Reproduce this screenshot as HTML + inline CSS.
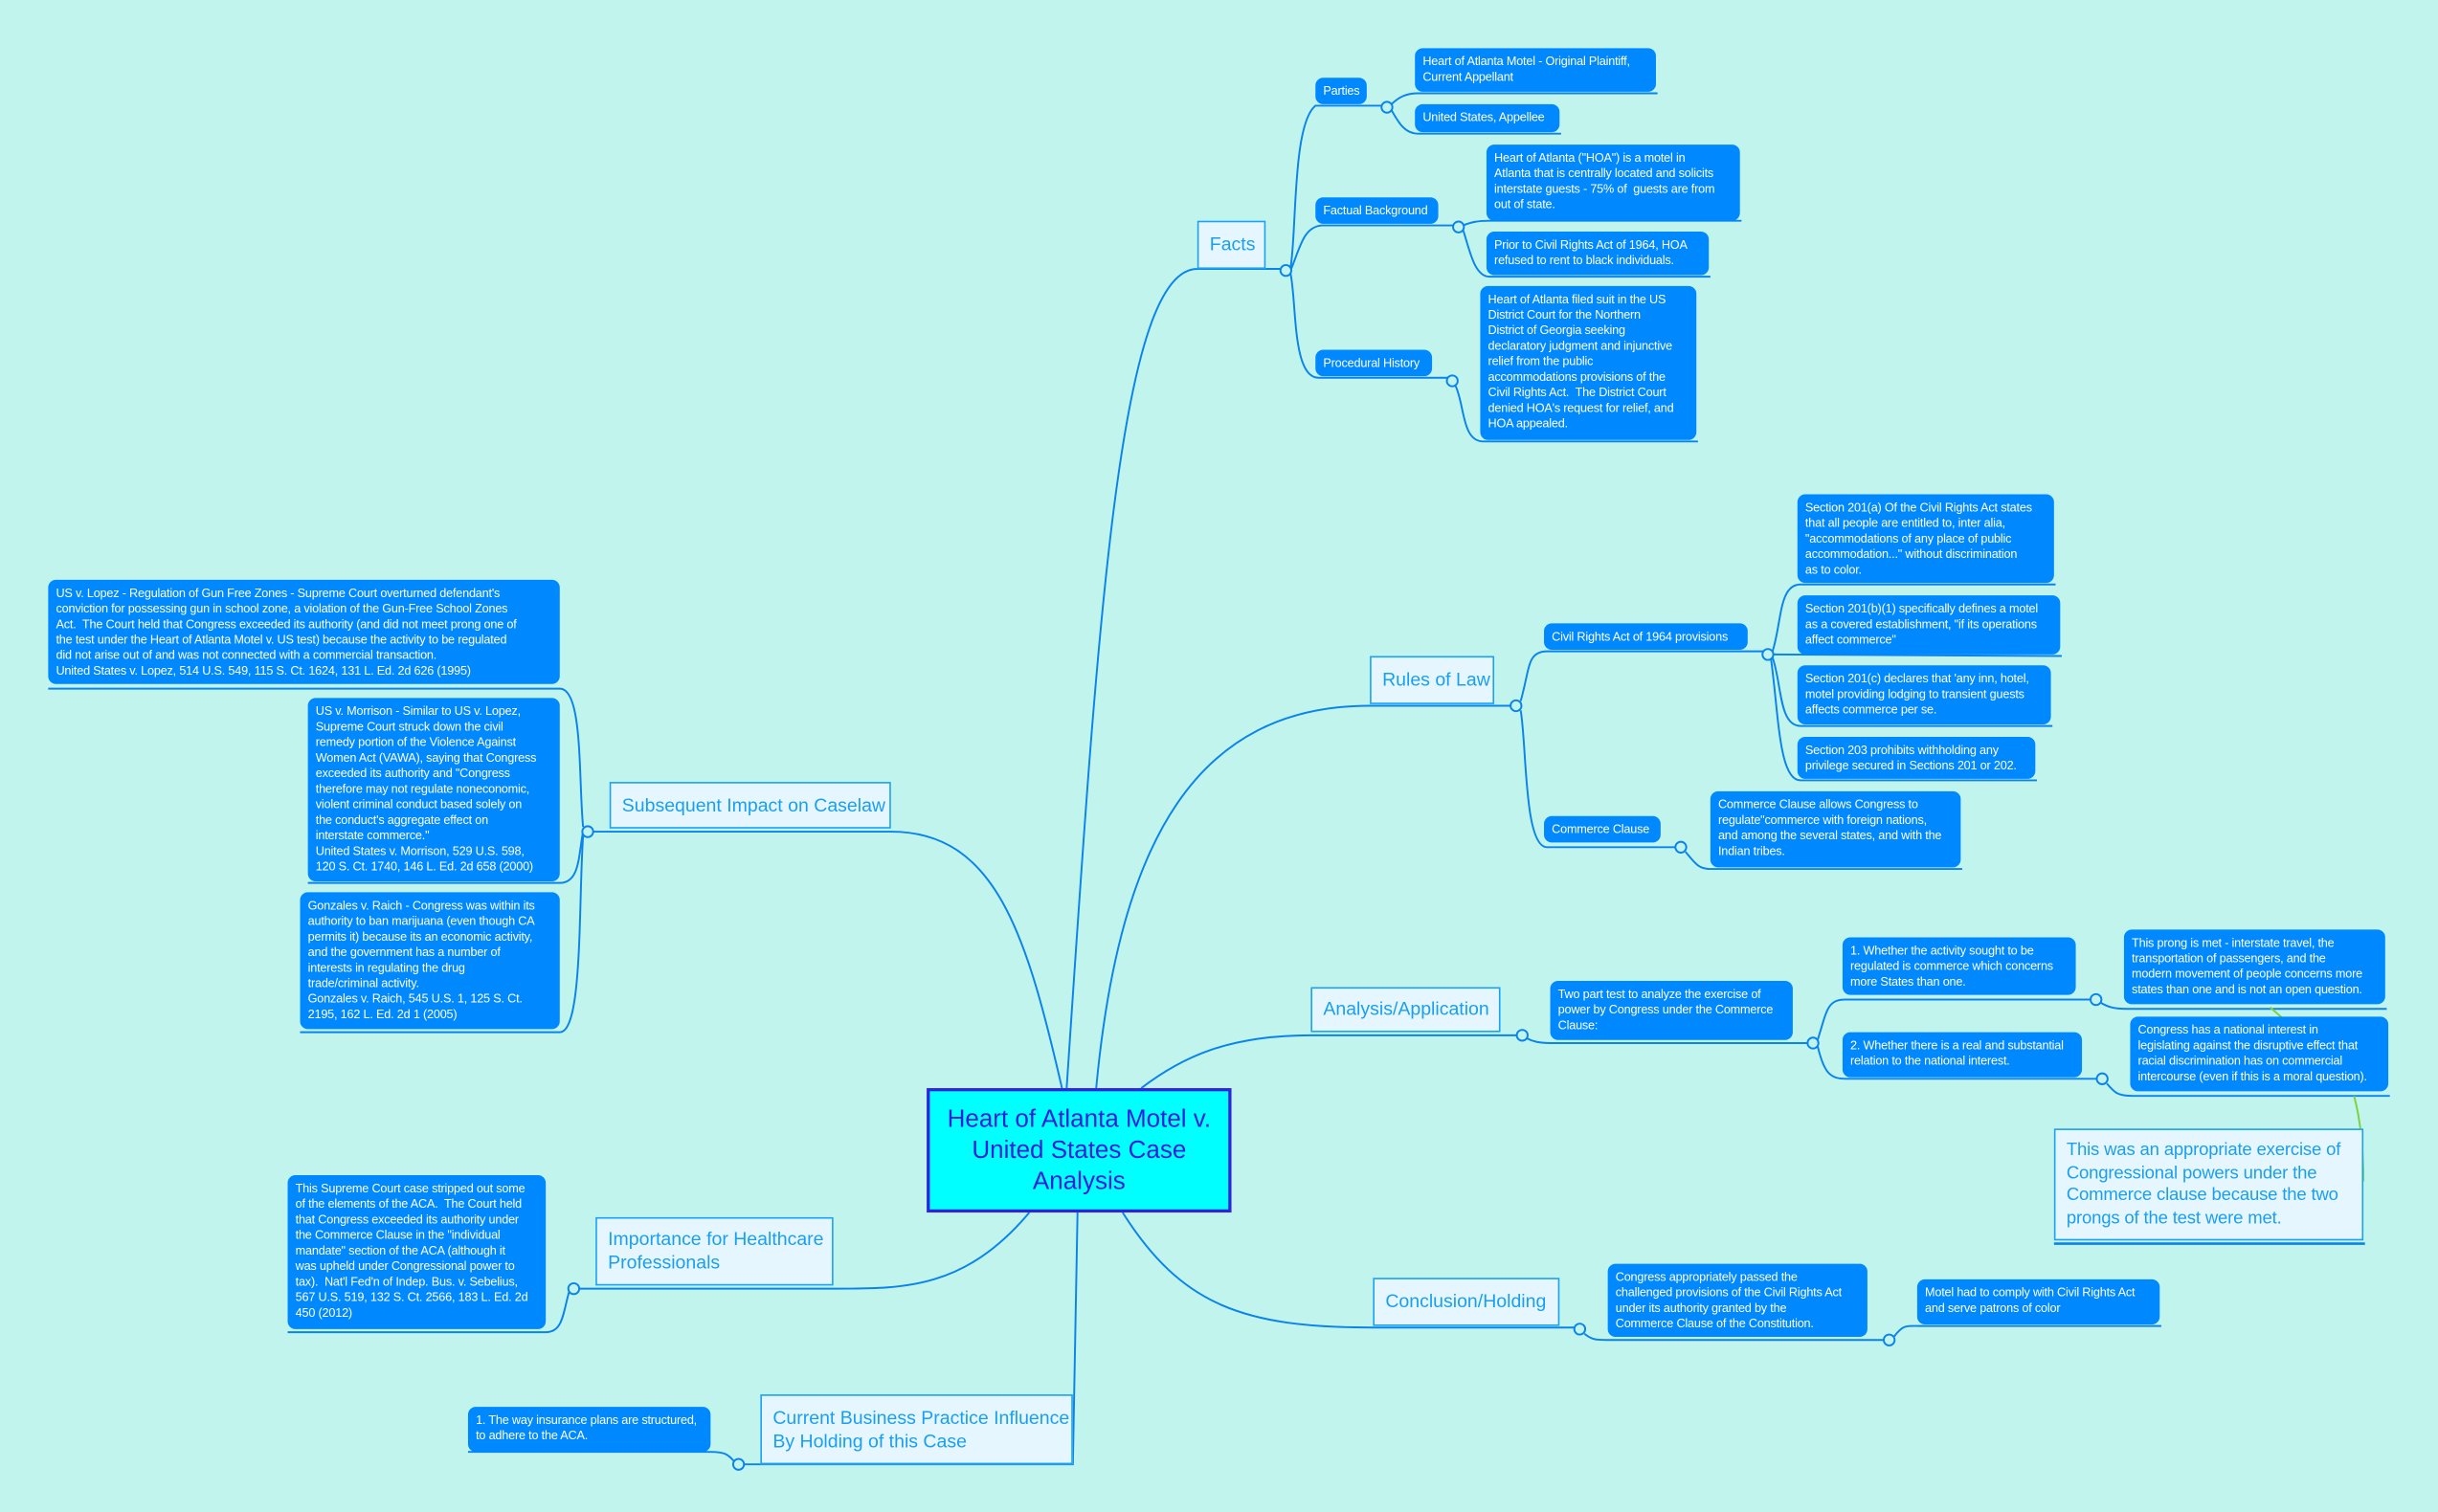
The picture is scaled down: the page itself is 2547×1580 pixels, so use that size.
<!DOCTYPE html>
<html><head><meta charset="utf-8">
<style>
html,body{margin:0;padding:0;background:#c2f4ee;}
#wrap{position:relative;width:2547px;height:1580px;overflow:hidden;background:#c2f4ee;}
#s{position:absolute;left:0;top:0;width:1568px;height:973px;transform:scale(1.6244);transform-origin:0 0;font-family:"Liberation Sans",sans-serif;}
.l{position:absolute;background:#0088ff;color:#fff;border-radius:5px;font-size:7.8px;line-height:10px;padding:3.5px 5px;box-sizing:border-box;white-space:nowrap;letter-spacing:-0.12px;}
.t{position:absolute;background:#e5f6fe;border:1.5px solid #1aa3f2;color:#1a9ff0;font-size:12px;line-height:15px;box-sizing:border-box;white-space:nowrap;padding:0 7px;display:flex;align-items:center;}
.c{position:absolute;left:596px;top:700px;width:196px;height:80px;background:#00ffff;border:2px solid #3322dd;box-sizing:border-box;color:#2f1fd8;font-size:16px;line-height:20px;text-align:center;padding-top:9px;}
svg{position:absolute;left:0;top:0;}
</style></head><body><div id="wrap"><div id="s">
<svg width="1568" height="973" viewBox="0 0 1568 973" fill="none" stroke="#0a84ea" stroke-width="1.2">
<path d="M686,700 C706,400 720,173 770,173 L824,173"/>
<path d="M830,172 C834,150 831,80 846,68 L889,68"/>
<path d="M830,174 C836,160 838,146 850,145 L935,145"/>
<path d="M830,176 C834,195 831,243 848,243 L931,243"/>
<path d="M895,67 C900,62 905,60 912,60 L1066,60"/>
<path d="M895,71 C900,80 904,86 912,86 L1004,86"/>
<path d="M941,145 C946,143 950,142 958,142 L1120,142"/>
<path d="M941,148 C945,160 948,178 958,178 L1100,178"/>
<path d="M936,248 C942,260 940,284 954,284 L1092,284"/>
<path d="M705,700 C720,540 770,454 881,454 L972,454"/>
<path d="M978,451 C984,430 982,419 995,419 L1134,419"/>
<path d="M978,457 C982,480 980,545 995,545 L1078,545"/>
<path d="M1140,419 C1146,400 1144,376 1158,376 L1322,376"/>
<path d="M1140,421 L1326,422"/>
<path d="M1140,423 C1146,440 1144,467 1158,467 L1320,467"/>
<path d="M1139,424 C1144,460 1144,502 1158,502 L1310,502"/>
<path d="M1084,548 C1090,555 1092,559 1100,559 L1262,559"/>
<path d="M734,700 C760,680 790,666 843,666 L976,666"/>
<path d="M982,668 C986,670 990,671 997,671 L1163,671"/>
<path d="M1169,669 C1175,650 1175,643 1187,643 L1345,643"/>
<path d="M1169,673 C1173,690 1177,694 1187,694 L1349,694"/>
<path d="M1351,645 C1356,648 1360,649 1368,649 L1535,649"/>
<path d="M1355,697 C1360,703 1362,705 1372,705 L1537,705"/>
<path d="M1321,800 L1521,800" stroke-width="1.6"/>
<path d="M1460,648 L1468,655 M1514,705 C1518,720 1520,740 1520,760" stroke="#7cd23c"/>
<path d="M722,780 C760,840 800,854 883,854 L1013,854"/>
<path d="M1019,858 C1024,862 1026,862 1036,862 L1212,862"/>
<path d="M1218,860 C1224,852 1226,853 1234,853 L1390,853"/>
<path d="M683,700 C660,600 640,535 573,535 L381,535"/>
<path d="M375,532 C372,500 375,443 360,443 L31,443"/>
<path d="M375,535 C372,550 373,568 360,568 L198,568"/>
<path d="M375,538 C372,580 375,664 360,664 L193,664"/>
<path d="M662,780 C620,830 580,829 536,829 L372,829"/>
<path d="M366,831 C362,845 362,857 351,857 L185,857"/>
<path d="M693,780 L690,942 L478,942"/>
<path d="M472,940 C468,935 465,934 457,934 L301,934"/>
<g fill="#c2f4ee" stroke-width="1.2">
<circle cx="827" cy="174" r="3.5"/><circle cx="892" cy="69" r="3.5"/><circle cx="938" cy="146" r="3.5"/><circle cx="934" cy="245" r="3.5"/>
<circle cx="975" cy="454" r="3.5"/><circle cx="1137" cy="421" r="3.5"/><circle cx="1081" cy="545" r="3.5"/>
<circle cx="979" cy="666" r="3.5"/><circle cx="1166" cy="671" r="3.5"/><circle cx="1348" cy="643" r="3.5"/><circle cx="1352" cy="694" r="3.5"/>
<circle cx="1016" cy="855" r="3.5"/><circle cx="1215" cy="862" r="3.5"/>
<circle cx="378" cy="535" r="3.5"/><circle cx="369" cy="829" r="3.5"/><circle cx="475" cy="942" r="3.5"/>
</g>
</svg>

<div class="c">Heart of Atlanta Motel v.<br>United States Case<br>Analysis</div>

<div class="t" style="left:770px;top:142px;width:44px;height:31px;">Facts</div>
<div class="l" style="left:846px;top:50px;width:33px;height:17px;">Parties</div>
<div class="l" style="left:910px;top:31px;width:155px;height:28px;">Heart of Atlanta Motel - Original Plaintiff,<br>Current Appellant</div>
<div class="l" style="left:910px;top:67px;width:93px;height:18px;">United States, Appellee</div>
<div class="l" style="left:846px;top:127px;width:79px;height:17px;">Factual Background</div>
<div class="l" style="left:956px;top:93px;width:163px;height:49px;">Heart of Atlanta ("HOA") is a motel in<br>Atlanta that is centrally located and solicits<br>interstate guests - 75% of&nbsp; guests are from<br>out of state.</div>
<div class="l" style="left:956px;top:149px;width:143px;height:28px;">Prior to Civil Rights Act of 1964, HOA<br>refused to rent to black individuals.</div>
<div class="l" style="left:846px;top:225px;width:75px;height:17px;">Procedural History</div>
<div class="l" style="left:952px;top:184px;width:139px;height:99px;">Heart of Atlanta filed suit in the US<br>District Court for the Northern<br>District of Georgia seeking<br>declaratory judgment and injunctive<br>relief from the public<br>accommodations provisions of the<br>Civil Rights Act.&nbsp; The District Court<br>denied HOA's request for relief, and<br>HOA appealed.</div>

<div class="t" style="left:881px;top:422px;width:80px;height:31px;">Rules of Law</div>
<div class="l" style="left:993px;top:401px;width:131px;height:17px;">Civil Rights Act of 1964 provisions</div>
<div class="l" style="left:1156px;top:318px;width:165px;height:57px;">Section 201(a) Of the Civil Rights Act states<br>that all people are entitled to, inter alia,<br>"accommodations of any place of public<br>accommodation..." without discrimination<br>as to color.</div>
<div class="l" style="left:1156px;top:383px;width:169px;height:38px;">Section 201(b)(1) specifically defines a motel<br>as a covered establishment, "if its operations<br>affect commerce"</div>
<div class="l" style="left:1156px;top:428px;width:163px;height:38px;">Section 201(c) declares that 'any inn, hotel,<br>motel providing lodging to transient guests<br>affects commerce per se.</div>
<div class="l" style="left:1156px;top:474px;width:153px;height:27px;">Section 203 prohibits withholding any<br>privilege secured in Sections 201 or 202.</div>
<div class="l" style="left:993px;top:525px;width:75px;height:17px;">Commerce Clause</div>
<div class="l" style="left:1100px;top:509px;width:161px;height:49px;">Commerce Clause allows Congress to<br>regulate"commerce with foreign nations,<br>and among the several states, and with the<br>Indian tribes.</div>

<div class="t" style="left:843px;top:635px;width:122px;height:29px;">Analysis/Application</div>
<div class="l" style="left:997px;top:631px;width:156px;height:38px;">Two part test to analyze the exercise of<br>power by Congress under the Commerce<br>Clause:</div>
<div class="l" style="left:1185px;top:603px;width:150px;height:37px;">1. Whether the activity sought to be<br>regulated is commerce which concerns<br>more States than one.</div>
<div class="l" style="left:1185px;top:664px;width:154px;height:29px;">2. Whether there is a real and substantial<br>relation to the national interest.</div>
<div class="l" style="left:1366px;top:598px;width:168px;height:48px;">This prong is met - interstate travel, the<br>transportation of passengers, and the<br>modern movement of people concerns more<br>states than one and is not an open question.</div>
<div class="l" style="left:1370px;top:654px;width:166px;height:48px;">Congress has a national interest in<br>legislating against the disruptive effect that<br>racial discrimination has on commercial<br>intercourse (even if this is a moral question).</div>
<div class="t" style="left:1321px;top:726px;width:199px;height:72px;font-size:11.4px;line-height:14.6px;align-items:flex-start;padding:6px 4px 0 7px;letter-spacing:-0.1px;">This was an appropriate exercise of<br>Congressional powers under the<br>Commerce clause because the two<br>prongs of the test were met.</div>

<div class="t" style="left:883px;top:822px;width:120px;height:31px;">Conclusion/Holding</div>
<div class="l" style="left:1034px;top:813px;width:167px;height:47px;">Congress appropriately passed the<br>challenged provisions of the Civil Rights Act<br>under its authority granted by the<br>Commerce Clause of the Constitution.</div>
<div class="l" style="left:1233px;top:823px;width:156px;height:29px;">Motel had to comply with Civil Rights Act<br>and serve patrons of color</div>

<div class="t" style="left:392px;top:503px;width:181px;height:30px;">Subsequent Impact on Caselaw</div>
<div class="l" style="left:31px;top:373px;width:329px;height:67px;">US v. Lopez - Regulation of Gun Free Zones - Supreme Court overturned defendant's<br>conviction for possessing gun in school zone, a violation of the Gun-Free School Zones<br>Act.&nbsp; The Court held that Congress exceeded its authority (and did not meet prong one of<br>the test under the Heart of Atlanta Motel v. US test) because the activity to be regulated<br>did not arise out of and was not connected with a commercial transaction.<br>United States v. Lopez, 514 U.S. 549, 115 S. Ct. 1624, 131 L. Ed. 2d 626 (1995)</div>
<div class="l" style="left:198px;top:449px;width:162px;height:118px;">US v. Morrison - Similar to US v. Lopez,<br>Supreme Court struck down the civil<br>remedy portion of the Violence Against<br>Women Act (VAWA), saying that Congress<br>exceeded its authority and "Congress<br>therefore may not regulate noneconomic,<br>violent criminal conduct based solely on<br>the conduct's aggregate effect on<br>interstate commerce."<br>United States v. Morrison, 529 U.S. 598,<br>120 S. Ct. 1740, 146 L. Ed. 2d 658 (2000)</div>
<div class="l" style="left:193px;top:574px;width:167px;height:88px;">Gonzales v. Raich - Congress was within its<br>authority to ban marijuana (even though CA<br>permits it) because its an economic activity,<br>and the government has a number of<br>interests in regulating the drug<br>trade/criminal activity.<br>Gonzales v. Raich, 545 U.S. 1, 125 S. Ct.<br>2195, 162 L. Ed. 2d 1 (2005)</div>

<div class="t" style="left:383px;top:783px;width:153px;height:44px;">Importance for Healthcare<br>Professionals</div>
<div class="l" style="left:185px;top:756px;width:166px;height:99px;">This Supreme Court case stripped out some<br>of the elements of the ACA.&nbsp; The Court held<br>that Congress exceeded its authority under<br>the Commerce Clause in the "individual<br>mandate" section of the ACA (although it<br>was upheld under Congressional power to<br>tax).&nbsp; Nat'l Fed'n of Indep. Bus. v. Sebelius,<br>567 U.S. 519, 132 S. Ct. 2566, 183 L. Ed. 2d<br>450 (2012)</div>

<div class="t" style="left:489px;top:897px;width:201px;height:45px;">Current Business Practice Influence<br>By Holding of this Case</div>
<div class="l" style="left:301px;top:905px;width:156px;height:29px;">1. The way insurance plans are structured,<br>to adhere to the ACA.</div>
</div></div></body></html>
